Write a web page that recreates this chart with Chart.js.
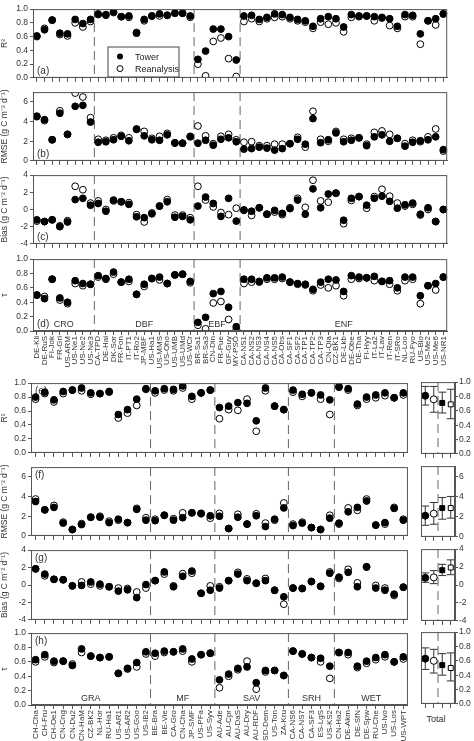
<!DOCTYPE html>
<html><head><meta charset="utf-8">
<script src="https://cdn.jsdelivr.net/npm/chart.js@4.4.1/dist/chart.umd.min.js"></script>
<style>
body{margin:0;background:#fff;width:474px;height:741px;position:relative;overflow:hidden;font-family:"Liberation Sans",Arial,sans-serif}
.p{position:absolute}
#tot{position:absolute;left:416px;top:714px;width:40px;text-align:center;font-size:9px;color:#333}
</style></head><body>
<div id="tot">Total</div>
<script>
// ---------- DATA ----------
const topSites=["DE-Kli","DE-RuS","FI-Jok","FR-Gri","US-ARM","US-Ne1","US-Ne2","US-Ne3",
"CA-TPD","DE-Hai","DK-Sor","FR-Fon","IT-PT1","IT-Ro2","JP-MBF","US-Ha1","US-MMS","US-Oho","US-UMB","US-UMd","US-WCr",
"BR-Sa1","BR-Sa3","CN-Din","FR-Pue","GF-Guy","MY-PSO",
"CA-NS1","CA-NS2","CA-NS3","CA-NS4","CA-NS5","CA-Obs","CA-SF1","CA-SF2","CA-TP1","CA-TP2","CA-TP3","CN-Qia","CZ-BK1","DE-Lkb","DE-Obe","DE-Tha","FI-Hyy","IT-La2","IT-Lav","IT-Ren","IT-SRo","NL-Loo","RU-Fyo","US-Blo","US-Me2","US-Me6","US-NR1"];
const topGroups=["CRO","DBF","EBF","ENF"];
const topGroupSizes=[8,13,6,27];
const r2Tower=[0.61,0.70,0.84,0.65,0.64,0.85,0.79,0.85,0.93,0.92,0.96,0.89,0.90,0.65,0.85,0.90,0.93,0.91,0.94,0.94,0.90,0.27,0.39,0.71,0.71,0.60,0.26,0.90,0.91,0.85,0.88,0.93,0.92,0.88,0.85,0.83,0.75,0.86,0.89,0.86,0.74,0.92,0.90,0.90,0.89,0.88,0.86,0.75,0.92,0.91,0.64,0.83,0.86,0.93];
const r2Rean=[0.60,0.72,0.84,0.63,0.61,0.80,0.74,0.82,0.92,0.91,0.95,0.89,0.88,0.66,0.83,0.90,0.90,0.91,0.94,0.94,0.88,0.20,0.03,0.53,0.58,0.28,0.02,0.82,0.86,0.82,0.86,0.88,0.89,0.86,0.83,0.81,0.72,0.81,0.78,0.80,0.67,0.88,0.89,0.90,0.83,0.87,0.76,0.72,0.89,0.89,0.49,0.83,0.77,0.93];
const rmseTower=[4.55,4.2,2.15,4.85,2.7,5.55,5.65,3.95,1.9,1.95,2.15,2.5,2.05,3.25,2.55,2.15,2.1,2.65,1.85,1.8,2.45,1.8,2.1,1.6,2.2,2.35,1.95,1.2,1.25,1.4,1.3,1.1,1.25,1.75,2.2,1.7,4.3,1.85,2.15,2.85,1.95,2.1,2.35,1.55,2.45,2.65,2.0,2.3,1.5,1.9,2.05,2.15,2.45,1.15];
const rmseRean=[4.5,4.1,2.15,5.1,2.7,6.9,6.5,4.4,2.2,2.1,2.35,2.6,2.35,3.2,3.0,2.3,2.5,2.8,1.8,1.8,2.5,3.55,2.55,1.75,2.5,2.7,2.15,1.9,1.95,1.55,1.55,1.7,1.7,1.75,2.4,1.4,5.05,2.2,2.0,3.0,2.2,2.3,2.35,1.7,2.9,3.05,2.7,2.3,1.75,2.1,1.95,2.45,3.25,1.0];
const biasTower=[-1.2,-1.4,-1.2,-2.0,-1.45,1.15,1.3,0.5,0.7,-0.2,1.1,0.9,0.6,-0.85,-0.95,-0.5,0.4,0.9,-0.9,-0.8,-1.2,0.4,1.45,0.7,-0.8,1.3,-1.35,-0.05,-0.2,0.2,-0.55,-0.1,-0.45,0.1,1.1,-0.55,2.4,0.2,1.8,1.9,-1.25,1.3,1.5,0.5,1.3,1.55,0.95,0.15,0.55,0.75,-0.55,0.2,-1.4,0.0];
const biasRean=[-1.35,-1.4,-1.2,-1.9,-1.3,2.7,2.3,0.75,1.0,0.0,1.0,0.9,0.8,-0.6,-1.45,-0.4,0.4,1.15,-0.65,-0.65,-0.95,2.7,1.1,0.3,-0.35,-0.6,0.15,-0.1,-0.7,0.2,-0.55,-0.3,-0.6,0.2,1.3,0.25,3.4,1.0,0.85,1.9,-1.65,1.05,1.5,0.15,1.5,2.35,1.55,0.75,0.4,0.6,-0.65,0.0,-1.4,0.0];
const tauTower=[0.50,0.45,0.72,0.46,0.40,0.70,0.66,0.65,0.77,0.73,0.82,0.68,0.72,0.51,0.65,0.73,0.75,0.66,0.78,0.79,0.69,0.12,0.19,0.52,0.55,0.33,0.06,0.72,0.72,0.69,0.74,0.74,0.75,0.68,0.66,0.65,0.58,0.68,0.72,0.71,0.55,0.77,0.75,0.74,0.76,0.69,0.70,0.60,0.75,0.75,0.49,0.63,0.66,0.75];
const tauRean=[0.50,0.48,0.72,0.43,0.38,0.66,0.63,0.65,0.75,0.72,0.79,0.68,0.69,0.51,0.62,0.73,0.71,0.66,0.78,0.79,0.67,0.08,0.03,0.39,0.41,0.16,0.02,0.66,0.68,0.68,0.72,0.72,0.73,0.68,0.65,0.64,0.56,0.64,0.60,0.63,0.49,0.72,0.73,0.74,0.70,0.69,0.65,0.56,0.70,0.72,0.38,0.63,0.57,0.75];

const botSites=["CH-Cha","CH-Fru","CH-Oe1","CN-Cng","CN-Du2","CN-HaM","CZ-BK2","NL-Hor","RU-Ha1","US-AR1","US-AR2","US-Goo","US-IB2",
"BE-Bra","BE-Vie","CA-Gro","CN-Cha","JP-SMF","US-PFa","US-Syv",
"AU-Ade","AU-Cpr","AU-DaS","AU-Dry","AU-RDF","SD-Dem","US-Ton","ZA-Kru",
"CA-NS6","CA-NS7","CA-SF3","ES-LgS","US-KS2",
"CN-Ha2","DE-Akm","DE-SfN","DE-Spw","RU-Che","US-Ivo","US-Los","US-WPT"];
const botGroups=["GRA","MF","SAV","SRH","WET"];
const botGroupSizes=[13,7,8,5,8];
const r2TowerB=[0.80,0.87,0.76,0.88,0.90,0.93,0.86,0.85,0.88,0.55,0.62,0.77,0.92,0.89,0.92,0.91,0.96,0.81,0.86,0.90,0.65,0.67,0.72,0.71,0.46,0.93,0.67,0.62,0.90,0.84,0.86,0.83,0.76,0.95,0.92,0.70,0.80,0.83,0.86,0.79,0.86];
const r2ReanB=[0.77,0.85,0.73,0.85,0.90,0.89,0.84,0.85,0.87,0.50,0.57,0.68,0.91,0.86,0.90,0.89,0.93,0.77,0.86,0.90,0.49,0.62,0.61,0.77,0.31,0.89,0.67,0.62,0.87,0.81,0.86,0.77,0.55,0.94,0.90,0.68,0.77,0.79,0.82,0.79,0.83];
const rmseTowerB=[3.5,2.65,2.9,1.3,0.65,1.15,1.9,1.9,1.35,1.7,1.35,2.7,1.6,1.55,2.1,1.6,1.85,2.35,2.3,2.05,2.0,0.75,1.9,1.2,2.05,0.95,1.7,2.85,1.05,1.3,0.85,0.65,1.8,1.3,2.45,2.9,3.55,1.1,1.35,2.8,1.6];
const rmseReanB=[3.75,2.65,3.1,1.4,0.65,1.25,1.9,2.0,1.5,1.6,1.35,2.8,1.85,1.7,2.1,1.75,2.35,2.35,2.25,1.8,2.3,0.75,2.2,1.2,2.25,1.3,1.6,3.35,1.2,1.4,0.85,0.65,2.1,1.2,2.85,2.6,3.75,1.1,1.2,2.9,1.7];
const biasTowerB=[1.85,1.25,0.65,0.6,-0.1,-0.05,0.35,0.1,-0.2,-0.7,-0.55,-1.45,0.05,0.5,1.5,-0.2,1.0,1.6,-0.95,-0.6,-0.35,0.5,1.25,0.5,0.2,0.5,-0.6,-1.35,-0.35,-0.4,0.4,-0.15,1.35,0.9,1.45,-0.2,2.05,-0.35,-0.6,-1.05,-0.25];
const biasReanB=[1.85,1.05,0.65,0.6,-0.1,0.35,0.1,-0.1,-0.2,-0.35,-0.4,-0.8,-0.35,0.5,1.25,-0.1,1.3,1.35,-0.95,-0.1,-0.2,0.5,1.45,0.7,0.2,0.75,-0.6,-2.2,-0.35,-0.4,0.4,-0.15,1.5,0.75,1.8,0.25,2.1,-0.05,-0.35,-1.2,-0.25];
const tauTowerB=[0.63,0.70,0.61,0.61,0.55,0.78,0.68,0.66,0.67,0.44,0.51,0.59,0.74,0.72,0.75,0.74,0.78,0.64,0.70,0.72,0.35,0.43,0.51,0.53,0.31,0.48,0.48,0.41,0.75,0.71,0.66,0.65,0.54,0.73,0.73,0.54,0.61,0.66,0.70,0.60,0.67];
const tauReanB=[0.60,0.67,0.59,0.61,0.57,0.73,0.68,0.66,0.67,0.44,0.50,0.53,0.71,0.68,0.73,0.74,0.75,0.60,0.70,0.72,0.24,0.40,0.49,0.61,0.22,0.46,0.48,0.41,0.75,0.71,0.66,0.60,0.37,0.73,0.70,0.52,0.58,0.63,0.67,0.60,0.64];

// Total panel: [Tower●, Reanalysis○, Tower■, Reanalysis□]
const totalCats=["T1","R1","T2","R2"];
const totR2=[0.81,0.76,0.71,0.69], totR2Lo=[0.68,0.58,0.57,0.49], totR2Hi=[0.94,0.94,0.86,0.90];
const totRmse=[2.1,2.3,2.85,2.85], totRmseLo=[1.15,1.25,1.75,1.85], totRmseHi=[3.05,3.4,3.9,4.0];
const totBias=[0.8,0.85,1.65,1.95], totBiasLo=[0.3,0.15,1.05,1.15], totBiasHi=[1.35,1.6,2.3,2.8];
const totTau=[0.63,0.60,0.54,0.50], totTauLo=[0.48,0.43,0.40,0.32], totTauHi=[0.78,0.76,0.70,0.71];

// ---------- RENDER ----------
const FONT="'Liberation Sans', Arial, sans-serif";
Chart.defaults.font.family=FONT;
Chart.defaults.color="#333";
Chart.defaults.animation=false;
const R2T="R\u00B2", FLUX="(g C m\u207B\u00B2 d\u207B\u00B9)";
const fmt=(o)=>(v=>{ if(o.dec) return v.toFixed(1); return (v%2===0)?String(v):''; });

const framePlugin={id:'frame',afterDraw(c){const a=c.chartArea,x=c.ctx;x.save();x.strokeStyle='#555';x.lineWidth=1;x.strokeRect(a.left+0.5,a.top+0.5,a.right-a.left-1,a.bottom-a.top-1);x.restore();}};

function groupPlugin(sizes,names,letter,letterTop,showNames,legend){
 return {id:'grp',beforeDatasetsDraw(c){
  const a=c.chartArea,x=c.ctx,s=c.scales.x;x.save();
  x.strokeStyle='#666';x.lineWidth=1;x.setLineDash([9,5]);
  let idx=0;const bounds=[s.left];
  sizes.forEach((n,i)=>{idx+=n;if(i<sizes.length-1){const px=(s.getPixelForValue(idx-1)+s.getPixelForValue(idx))/2;bounds.push(px);x.beginPath();x.moveTo(px,a.top);x.lineTo(px,a.bottom);x.stroke();}});
  bounds.push(s.right);x.setLineDash([]);
  x.fillStyle='#333';x.font='9px '+FONT;x.textBaseline='alphabetic';
  if(showNames){x.textAlign='center';names.forEach((nm,i)=>{x.fillText(nm,(bounds[i]+bounds[i+1])/2,a.bottom-4);});}
  x.textAlign='left';x.font='10px '+FONT;
  if(letterTop) x.fillText(letter,a.left+4,a.top+11); else x.fillText(letter,a.left+4,a.bottom-4);
  if(legend){const [lx,ly,lw,lh]=legend;x.strokeStyle='#444';x.strokeRect(lx,ly,lw,lh);
   x.font='9px '+FONT;
   x.beginPath();x.arc(lx+12,ly+lh*0.32,3,0,7);x.fillStyle='#000';x.fill();
   x.beginPath();x.arc(lx+12,ly+lh*0.72,3,0,7);x.fillStyle='#fff';x.fill();x.strokeStyle='#000';x.stroke();
   x.fillStyle='#222';x.fillText('Tower',lx+27,ly+lh*0.32+3);x.fillText('Reanalysis',lx+27,ly+lh*0.72+3);}
  x.restore();}};
}

function panel(o){
 const d=document.createElement('div');d.className='p';
 d.style.left=o.left+'px';d.style.top=(o.top-2)+'px';d.style.width=o.width+'px';d.style.height=(o.h+2+o.xh)+'px';
 const cv=document.createElement('canvas');d.appendChild(cv);document.body.appendChild(d);
 new Chart(cv,{type:'line',data:{labels:o.labels,datasets:[
  {data:o.tower,showLine:false,pointRadius:3.4,pointBackgroundColor:'#000',pointBorderColor:'#000',pointBorderWidth:1,order:1},
  {data:o.rean,showLine:false,pointRadius:3.4,pointBackgroundColor:'#fff',pointBorderColor:'#000',pointBorderWidth:1,order:2}]},
 options:{responsive:true,maintainAspectRatio:false,layout:{padding:{top:2,right:1,left:0,bottom:0}},
  plugins:{legend:{display:false},tooltip:{enabled:false}},
  scales:{x:{type:'category',offset:true,grid:{drawOnChartArea:false,tickLength:4,color:'#555'},border:{color:'#555'},
    ticks:{autoSkip:false,maxRotation:90,minRotation:90,font:{size:8},padding:1,callback:function(v,i){return o.xlabels?this.getLabelForValue(v):'';}},
    afterFit(s){s.height=o.xh;}},
   y:{min:o.min,max:o.max,grid:{drawOnChartArea:false,tickLength:3,color:'#555'},border:{color:'#555'},
    ticks:{stepSize:o.step,font:{size:8.5},padding:2,callback:fmt(o)},
    title:{display:true,text:o.title,font:{size:8.5},padding:0},
    afterFit(s){s.width=o.yw;}}}},
 plugins:[framePlugin,groupPlugin(o.sizes,o.names,o.letter,o.letterTop,o.showNames,o.legend)]});
}

function total(o){
 const d=document.createElement('div');d.className='p';
 d.style.left='416px';d.style.top=(o.top-2)+'px';d.style.width='58px';d.style.height=(o.h+2+o.xh)+'px';
 const cv=document.createElement('canvas');d.appendChild(cv);document.body.appendChild(d);
 const eb={id:'eb',beforeDatasetsDraw(c){const x=c.ctx,sx=c.scales.x,sy=c.scales.y,a=c.chartArea;x.save();x.strokeStyle='#333';x.lineWidth=1;
  o.lo.forEach((lo,i)=>{const px=sx.getPixelForValue(i),y1=sy.getPixelForValue(lo),y2=sy.getPixelForValue(o.hi[i]);
   x.beginPath();x.moveTo(px,y1);x.lineTo(px,y2);x.moveTo(px-4,y1);x.lineTo(px+4,y1);x.moveTo(px-4,y2);x.lineTo(px+4,y2);x.stroke();});
  const m=(sx.getPixelForValue(1)+sx.getPixelForValue(2))/2;x.strokeStyle='#666';x.setLineDash([9,5]);x.beginPath();x.moveTo(m,a.top);x.lineTo(m,a.bottom);x.stroke();x.restore();}};
 new Chart(cv,{type:'line',data:{labels:totalCats,datasets:[{data:o.v,showLine:false,pointRadius:3.5,
   pointStyle:['circle','circle','rect','rect'],pointBackgroundColor:['#000','#fff','#000','#fff'],pointBorderColor:'#000',pointBorderWidth:1}]},
 options:{responsive:true,maintainAspectRatio:false,layout:{padding:{top:2,right:0,left:0,bottom:0}},
  plugins:{legend:{display:false},tooltip:{enabled:false}},
  scales:{x:{type:'category',offset:true,grid:{drawOnChartArea:false,tickLength:4,color:'#555'},border:{color:'#555'},ticks:{callback:()=>''},afterFit(s){s.height=o.xh;}},
   y:{position:'right',min:o.min,max:o.max,grid:{drawOnChartArea:false,tickLength:3,color:'#555'},border:{color:'#555'},
    ticks:{stepSize:o.step,font:{size:8.5},padding:1,callback:fmt(o)},afterFit(s){s.width=19;}}}},
 plugins:[eb,framePlugin]});
}

// top figure
const T={labels:topSites,sizes:topGroupSizes,names:topGroups,left:0,width:454,yw:33};
panel({...T,top:4,h:76,xh:5,tower:r2Tower,rean:r2Rean,min:0,max:1,step:0.2,dec:true,title:R2T,letter:'(a)',legend:[108,45,71,30]});
panel({...T,top:87,h:76,xh:5,tower:rmseTower,rean:rmseRean,min:0,max:7,step:1,title:'RMSE '+FLUX,letter:'(b)'});
panel({...T,top:170,h:76,xh:5,tower:biasTower,rean:biasRean,min:-4,max:4,step:2,title:'Bias '+FLUX,letter:'(c)'});
panel({...T,top:254,h:77,xh:66,tower:tauTower,rean:tauRean,min:0,max:1,step:0.2,dec:true,title:'\u03C4',letter:'(d)',showNames:true,xlabels:true});
// bottom figure
const B={labels:botSites,sizes:botGroupSizes,names:botGroups,left:0,width:414,yw:31,letterTop:true};
panel({...B,top:378,h:77,xh:5,tower:r2TowerB,rean:r2ReanB,min:0,max:1,step:0.2,dec:true,title:R2T,letter:'(e)',legend:[147,418,70,30]});
panel({...B,top:462,h:76,xh:5,tower:rmseTowerB,rean:rmseReanB,min:0,max:7,step:1,title:'RMSE '+FLUX,letter:'(f)'});
panel({...B,top:545,h:77,xh:5,tower:biasTowerB,rean:biasReanB,min:-4,max:4,step:2,title:'Bias '+FLUX,letter:'(g)'});
panel({...B,top:628,h:77,xh:36,tower:tauTowerB,rean:tauReanB,min:0,max:1,step:0.2,dec:true,title:'\u03C4',letter:'(h)',showNames:true,xlabels:true});
total({top:378,h:77,xh:5,v:totR2,lo:totR2Lo,hi:totR2Hi,min:0,max:1,step:0.2,dec:true});
total({top:462,h:76,xh:5,v:totRmse,lo:totRmseLo,hi:totRmseHi,min:0,max:7,step:1});
total({top:545,h:77,xh:5,v:totBias,lo:totBiasLo,hi:totBiasHi,min:-4,max:4,step:2});
total({top:628,h:77,xh:5,v:totTau,lo:totTauLo,hi:totTauHi,min:0,max:1,step:0.2,dec:true});
</script></body></html>
